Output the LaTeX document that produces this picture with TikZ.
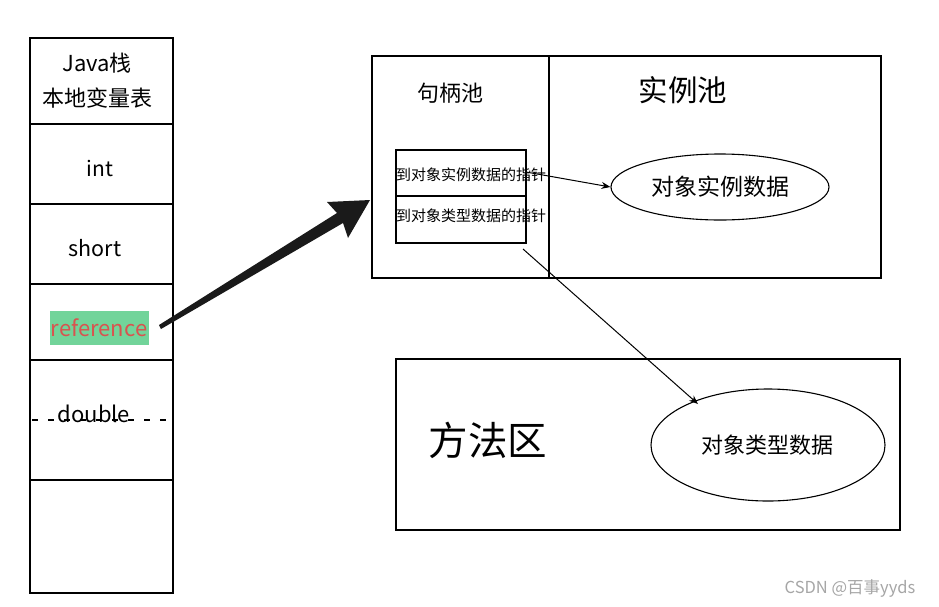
\documentclass[tikz,border=0pt]{standalone}
\usepackage{fontspec}
\setmainfont{Noto Sans CJK SC}
\usetikzlibrary{arrows.meta,shapes.geometric}
\definecolor{refred}{HTML}{D9534F}
\definecolor{refgreen}{HTML}{72D49A}
\definecolor{arrowdark}{HTML}{1A1A1A}
\tikzset{
  box/.style={draw=black, line width=1.1pt},
  thinarrow/.style={draw=black, line width=1pt, -{Stealth[length=9pt,width=7pt]}},
  lbl/.style={inner sep=0pt, anchor=center},
}
\begin{document}
\begin{tikzpicture}[x=1pt,y=-1pt]
\useasboundingbox (0,0) rectangle (939,606);
\fill[white] (0,0) rectangle (939,606);
% left column
\draw[box] (30,38) rectangle (173,593);
\foreach \yy in {124,204,284,360,480} \draw[box] (30,\yy) -- (173,\yy);
\node[lbl,font=\fontsize{22}{24}\selectfont] (java) at (97,63) {Java栈};
\node[lbl,font=\fontsize{22}{24}\selectfont] (local) at (97,98) {本地变量表};
\node[lbl,font=\fontsize{21}{24}\selectfont] (int) at (100,168) {int};
\node[lbl,font=\fontsize{21.5}{24}\selectfont] (short) at (95,248) {short};
\fill[refgreen] (50,311) rectangle (149,345);
\node[lbl,font=\fontsize{22}{24}\selectfont,text=refred] (ref) at (99,328) {reference};
\node[lbl,font=\fontsize{22}{24}\selectfont] (dbl) at (94,414) {double};
\draw[line width=1.1pt, dash pattern=on 6pt off 10pt, dash phase=-2pt] (30,420) -- (173,420);
% handle pool
\draw[box] (372,56) rectangle (881,278);
\draw[box] (549,56) -- (549,278);
\node[lbl,font=\fontsize{22}{24}\selectfont] (hp) at (450,93) {句柄池};
\node[lbl,font=\fontsize{29.5}{32}\selectfont] (ip) at (683,90) {实例池};
\draw[box] (396,150) rectangle (526,243);
\draw[box] (396,196) -- (526,196);
\node[lbl,font=\fontsize{15}{16}\selectfont] (p1) at (471,175) {到对象实例数据的指针};
\node[lbl,font=\fontsize{15}{16}\selectfont] (p2) at (471,216) {到对象类型数据的指针};
\node[draw=black, line width=1.1pt, ellipse, minimum width=218pt, minimum height=66pt, inner sep=0pt] (e1) at (720,187) {};
\node[lbl,font=\fontsize{23}{26}\selectfont] at (720,187) {对象实例数据};
% method area
\draw[box] (396,359) rectangle (900,530);
\node[lbl,font=\fontsize{39.5}{42}\selectfont] (ma) at (488,440) {方法区};
\node[draw=black, line width=1.1pt, ellipse, minimum width=234pt, minimum height=112pt, inner sep=0pt] (e2) at (768,445) {};
\node[lbl,font=\fontsize{22}{25}\selectfont] at (767,445) {对象类型数据};
% connectors
\coordinate (a1) at (526,172);
\coordinate (a2) at (523,249);
\draw[thinarrow] (a1) -- (e1.west);
\draw[thinarrow] (a2) -- (698,404);
% big arrow
\fill[arrowdark, line join=round] (159,325) -- (337,213) -- (327,202) -- (370,200) -- (348,238) -- (343,223) -- (161,329) -- cycle;
% watermark
\node[lbl,font=\fontsize{16.5}{18}\selectfont,text=gray!70] (wm) at (850,588) {CSDN @百事yyds};
\end{tikzpicture}
\end{document}
